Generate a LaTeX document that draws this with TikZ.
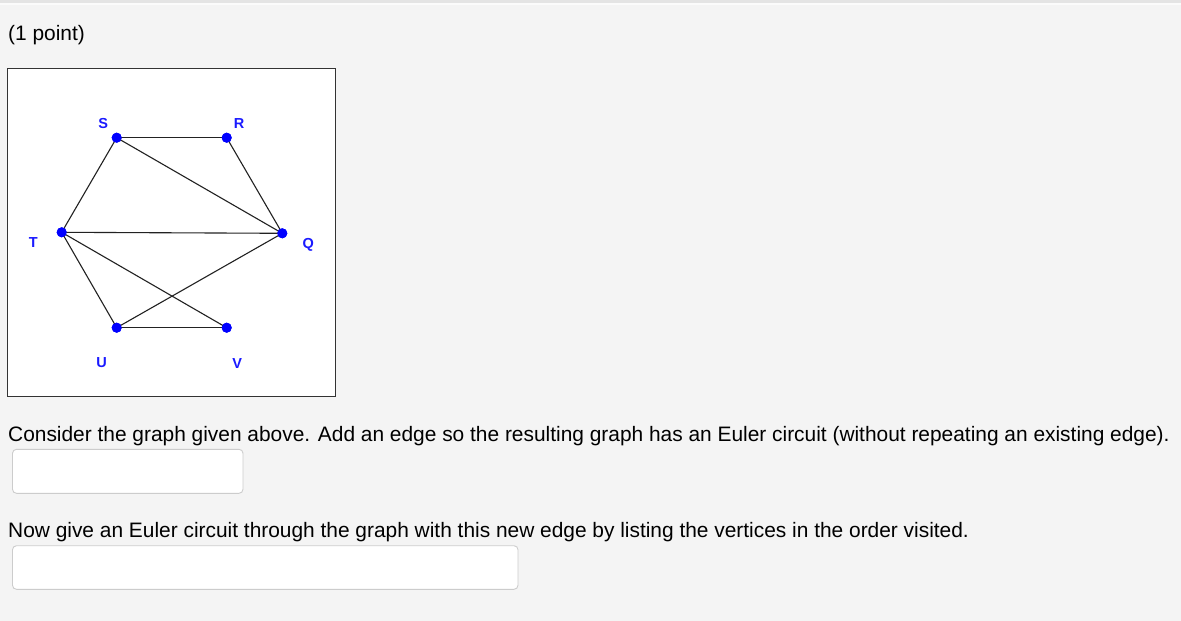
\documentclass[tikz,border=0pt]{standalone}
\usepackage{fontspec}
\setmainfont{Liberation Sans}
\definecolor{pagebg}{HTML}{F4F4F4}
\definecolor{topline}{HTML}{E4E4E4}
\definecolor{boxborder}{HTML}{333333}
\definecolor{inputborder}{HTML}{CCCCCC}
\definecolor{vblue}{HTML}{0000FF}
\definecolor{lblue}{HTML}{1A1AFF}
\definecolor{edgecol}{HTML}{222222}
\begin{document}
\begin{tikzpicture}[x=1pt,y=-1pt,
  vtx/.style={circle,fill=vblue,inner sep=0pt,minimum size=10pt},
  vlabel/.style={text=lblue,font=\fontsize{14.5}{16}\selectfont\bfseries,inner sep=0pt},
  gedge/.style={draw=edgecol,line width=1.1pt},
  bodytext/.style={anchor=base west,inner sep=0pt,font=\fontsize{20.9}{24}\selectfont,text=black},
  inputbox/.style={draw=inputborder,fill=white,rounded corners=4pt,line width=0.9pt}]
\useasboundingbox (0,0) rectangle (1181,621);
\fill[pagebg] (0,0) rectangle (1181,621);
\fill[topline] (0,0) rectangle (1181,3);
\fill[white!60!pagebg] (0,3) rectangle (1181,5);
% title
\node[bodytext] (title) at (8,40) {(1 point)};
% graph frame
\node[draw=boxborder,fill=white,line width=1.2pt,minimum width=328pt,minimum height=328pt,inner sep=0pt] (frame) at (171.8,232.7) {};
% vertices
\node[vtx] (S) at (116.7,137.7) {};
\node[vtx] (R) at (226.7,137.7) {};
\node[vtx] (T) at (61.7,232.3) {};
\node[vtx] (Q) at (282.3,233.3) {};
\node[vtx] (U) at (116.7,327.7) {};
\node[vtx] (V) at (226.7,327.7) {};
% edges
\draw[gedge] (S.center) -- (R.center);
\draw[gedge] (S.center) -- (Q.center);
\draw[gedge] (S.center) -- (T.center);
\draw[gedge] (R.center) -- (Q.center);
\draw[gedge] (T.center) -- (Q.center);
\draw[gedge] (T.center) -- (U.center);
\draw[gedge] (T.center) -- (V.center);
\draw[gedge] (U.center) -- (Q.center);
\draw[gedge] (U.center) -- (V.center);
% redraw vertices on top
\foreach \v in {S,R,T,Q,U,V} \fill[vblue] (\v) circle (5pt);
% labels
\node[vlabel] (lS) at (103.3,124) {S};
\node[vlabel] (lR) at (239,124) {R};
\node[vlabel] (lT) at (33.3,242.5) {T};
\node[vlabel] (lQ) at (308.3,244.5) {Q};
\node[vlabel] (lU) at (101.7,363) {U};
\node[vlabel] (lV) at (237.3,363.5) {V};
% question texts
\node[bodytext] (q1) at (8,441) {Consider the graph given above. Add an edge so the resulting graph has an Euler circuit (without repeating an existing edge).};
\draw[inputbox] (12.5,449.3) rectangle (243,493.3);
\node[bodytext] (q2) at (8,537) {Now give an Euler circuit through the graph with this new edge by listing the vertices in the order visited.};
\draw[inputbox] (12.5,545.7) rectangle (518,589.3);
\end{tikzpicture}
\end{document}
